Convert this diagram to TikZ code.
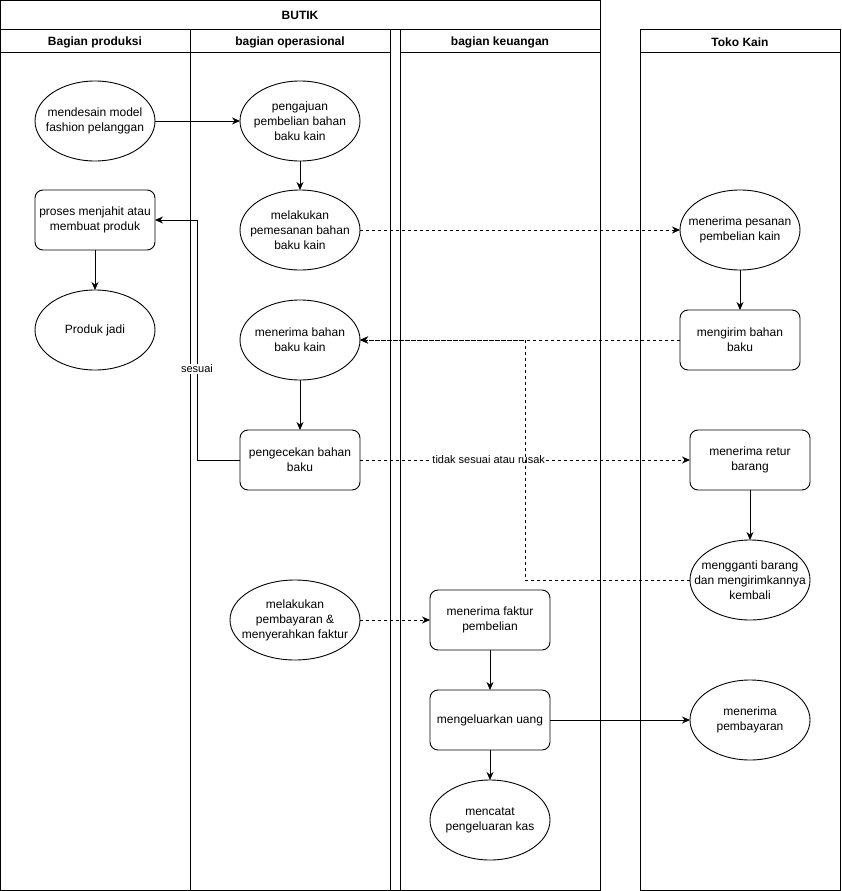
\documentclass[tikz,border=0pt]{standalone}
\usepackage{fontspec}
\setmainfont{Liberation Sans}
\usetikzlibrary{arrows.meta, positioning, shapes.geometric}

\begin{document}
\begin{tikzpicture}[x=1pt, y=-1pt,
    lane/.style={draw, line width=1pt},
    head/.style={font=\bfseries\fontsize{12}{14}\selectfont},
    proc/.style={draw, line width=0.9pt, rounded corners=8pt, minimum width=120pt, minimum height=60pt,
        align=center, inner sep=1pt, outer sep=0pt, font=\fontsize{12}{15}\selectfont},
    act/.style={draw, line width=0.9pt, ellipse, minimum width=120pt, minimum height=80pt,
        align=center, inner xsep=-30pt, inner ysep=-12pt, outer sep=0pt, font=\fontsize{12}{15}\selectfont},
    flow/.style={-{Stealth[length=8pt, width=7pt]}, line width=0.9pt},
    msg/.style={flow, dash pattern=on 3pt off 3pt},
    lbl/.style={fill=white, inner sep=1pt, font=\fontsize{11}{13}\selectfont}]

\useasboundingbox (0,0) rectangle (841,891);

% Pool BUTIK with its lanes
\draw[lane] (0.5,0.5) rectangle (600,890);
\draw[lane] (0.5,30) -- (600,30);
\draw[lane] (0.5,30) rectangle (190,890);
\draw[lane] (190,30) rectangle (390,890);
\draw[lane] (400,30) rectangle (600,890);
\draw[lane] (0.5,53) -- (390,53);
\draw[lane] (400,53) -- (600,53);
\node[head] (butik) at (300,15) {BUTIK};
\node[head] (produksi) at (95,42) {Bagian produksi};
\node[head] (operasional) at (290,42) {bagian operasional};
\node[head] (keuangan) at (500,42) {bagian keuangan};

% Pool Toko Kain
\draw[lane] (640,30) rectangle (840,890);
\draw[lane] (640,53) -- (840,53);
\node[head] (toko) at (740,42) {Toko Kain};

% Bagian produksi
\node[act] (mendesain) at (95,121) {mendesain model\\fashion pelanggan};
\node[proc] (proses) at (95,220) {proses menjahit atau\\membuat produk};
\node[act] (produk) at (95,330) {Produk jadi};

% bagian operasional
\node[act] (pengajuan) at (300,121) {pengajuan\\pembelian bahan\\baku kain};
\node[act] (pemesanan) at (300,230) {melakukan\\pemesanan bahan\\baku kain};
\node[act] (terima) at (300,340) {menerima bahan\\baku kain};
\node[proc] (cek) at (300,460) {pengecekan bahan\\baku};
\node[act, minimum width=130pt] (bayar) at (295,620) {melakukan\\pembayaran \&\\menyerahkan faktur};

% bagian keuangan
\node[proc] (faktur) at (490,620) {menerima faktur\\pembelian};
\node[proc] (uang) at (490,720) {mengeluarkan uang};
\node[act] (catat) at (490,820) {mencatat\\pengeluaran kas};

% Toko Kain
\node[act] (pesanan) at (740,230) {menerima pesanan\\pembelian kain};
\node[proc] (kirim) at (740,340) {mengirim bahan\\baku};
\node[proc] (retur) at (750,460) {menerima retur\\barang};
\node[act] (ganti) at (750,580) {mengganti barang\\dan mengirimkannya\\kembali};
\node[act] (terimabayar) at (750,720) {menerima\\pembayaran};

% helper points for bent connectors
\coordinate (bend) at (197,460);
\coordinate (merge) at (525,340);

% Connectors
\draw[flow] (mendesain) -- (pengajuan);
\draw[flow] (pengajuan) -- (pemesanan);
\draw[flow] (proses) -- (produk);
\draw[msg] (pemesanan) -- (pesanan);
\draw[flow] (pesanan) -- (kirim);
\draw[msg] (kirim.west) -- (terima.east);
\draw[flow] (terima) -- (cek);
\draw[flow] (cek.west) -- (bend) |- node[lbl, pos=0.19] {sesuai} (proses.east);
\draw[msg] (cek.east) -- node[lbl, pos=0.39] {tidak sesuai atau rusak} (retur.west);
\draw[flow] (retur) -- (ganti);
\draw[msg] (ganti.west) -| (merge) -- (terima.east);
\draw[msg] (bayar) -- (faktur);
\draw[flow] (faktur) -- (uang);
\draw[flow] (uang) -- (terimabayar);
\draw[flow] (uang) -- (catat);

\end{tikzpicture}
\end{document}
